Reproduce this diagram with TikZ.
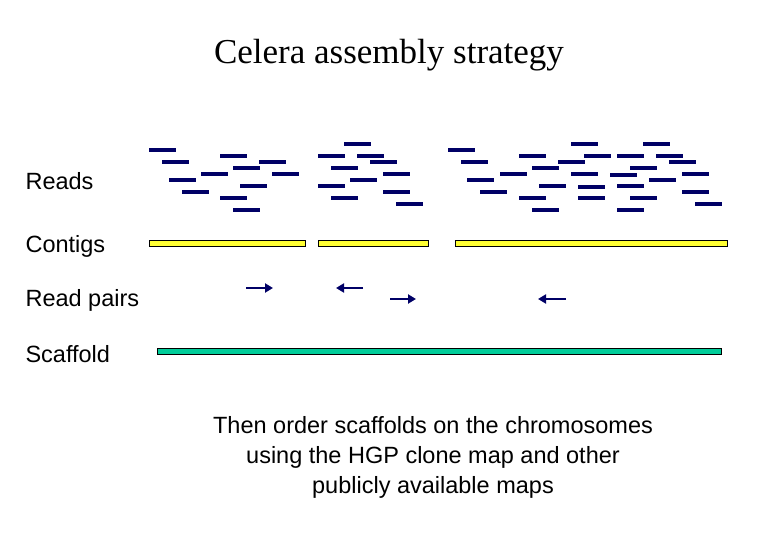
\documentclass[tikz,border=0pt]{standalone}
\usepackage{fontspec}
\setmainfont{Liberation Serif}
\newfontfamily\arialfont{Liberation Sans}
\usetikzlibrary{arrows.meta,positioning}
\definecolor{readblue}{RGB}{0,0,102}
\definecolor{contigyellow}{RGB}{255,255,51}
\definecolor{scafgreen}{RGB}{0,204,153}

\begin{document}
\begin{tikzpicture}[x=1pt, y=-1pt,
    read/.style={readblue, line width=3.6pt},
    contig/.style={draw=black, fill=contigyellow, line width=0.8pt},
    scaffold/.style={draw=black, fill=scafgreen, line width=0.8pt},
    pair/.style={readblue, line width=2.6pt, -{Triangle[length=8pt,width=9pt]}},
    lbl/.style={anchor=west, font=\arialfont\fontsize{23.5}{28}\selectfont}]
    \useasboundingbox (0,0) rectangle (780,540);

    % Title
    \node (title) at (389,55) {\fontsize{35}{40}\selectfont Celera assembly strategy};

    % Labels
    \node[lbl] (reads) at (22,181) {Reads};
    \node[lbl] (contigs) at (22,246) {Contigs};
    \node[lbl] (pairs) at (22,300) {Read pairs};
    \node[lbl] (scaf) at (22,354) {Scaffold};

    % Reads
    \foreach \x/\y in {149/150, 220/156, 162/162, 259/162, 233/168, 201/174, 272/174,
        169/180, 240/186, 182/192, 220/198, 233/210,
        344/144, 318/156, 357/156, 370/162, 331/168, 383/174, 350/180, 318/186,
        383/192, 331/198, 396/204,
        571/144, 643/144, 448/150, 519/156, 584/156, 617/156, 656/156, 461/162,
        558/162, 669/162, 532/168, 630/168, 500/174, 571/174, 610/175, 682/174,
        467/180, 649/180, 539/186, 578/187, 617/186, 480/192, 682/192, 519/198,
        578/198, 630/198, 695/204, 532/210, 617/210} {
        \draw[read] (\x,\y) -- ++(27,0);
    }

    % Contigs
    \draw[contig] (149,240) rectangle (305,246);
    \draw[contig] (318,240) rectangle (428,246);
    \draw[contig] (455,240) rectangle (727,246);

    % Read pairs
    \coordinate (p1a) at (246,288); \coordinate (p1b) at (273,288);
    \coordinate (p2a) at (363,288); \coordinate (p2b) at (336,288);
    \coordinate (p3a) at (390,299); \coordinate (p3b) at (416,299);
    \coordinate (p4a) at (566,299); \coordinate (p4b) at (538,299);
    \draw[pair] (p1a) -- (p1b);
    \draw[pair] (p2a) -- (p2b);
    \draw[pair] (p3a) -- (p3b);
    \draw[pair] (p4a) -- (p4b);

    % Scaffold
    \draw[scaffold] (157,348) rectangle (721,354);

    % Note
    \node[align=center, font=\arialfont\fontsize{23.5}{30}\selectfont] (note) at (433,457)
        {Then order scaffolds on the chromosomes\\using the HGP clone map and other\\publicly available maps};
\end{tikzpicture}
\end{document}
